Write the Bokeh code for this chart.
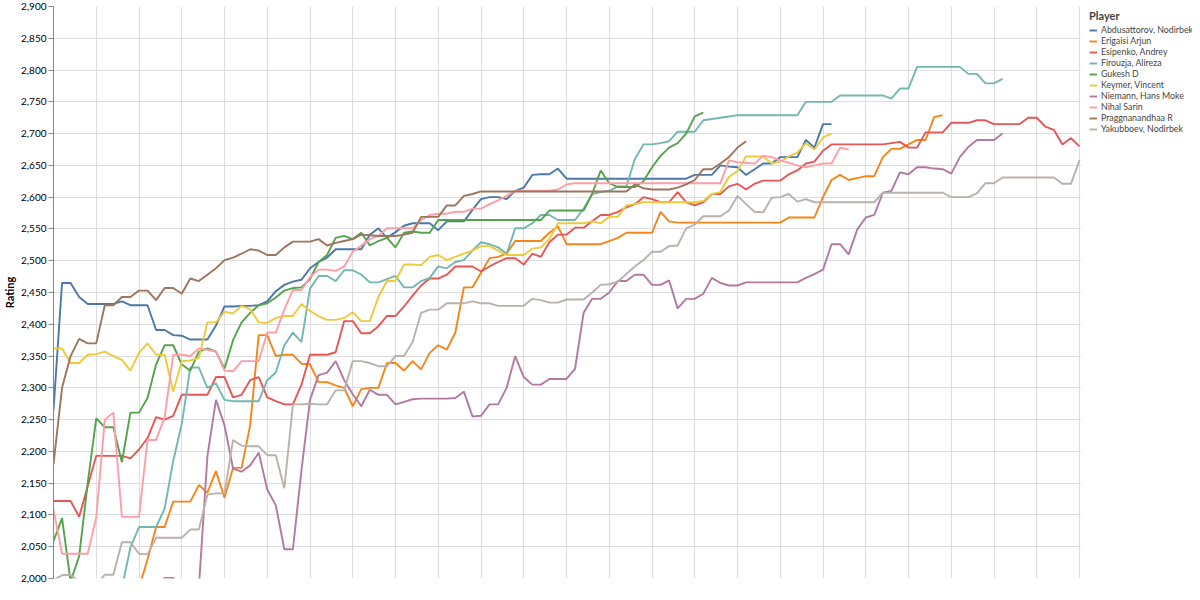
from bokeh.plotting import figure
from bokeh.models import (Legend, LegendItem, NumeralTickFormatter,
                          SingleIntervalTicker, Range1d, BoxAnnotation)
from bokeh.embed import file_html
from bokeh.resources import INLINE

players = ["Abdusattorov, Nodirbek", "Erigaisi Arjun", "Esipenko, Andrey",
           "Firouzja, Alireza", "Gukesh D", "Keymer, Vincent",
           "Niemann, Hans Moke", "Nihal Sarin", "Praggnanandhaa R",
           "Yakubboev, Nodirbek"]
colors = ["#4c78a8", "#f58518", "#e45756", "#72b7b2", "#54a24b",
          "#eeca3b", "#b279a2", "#ff9da6", "#9d755d", "#bab0ac"]

# rating list index of the first value of each series
first_list = [0, 10, 0, 8, 0, 0, 11, 0, 0, 0]

abdusattorov = [2265, 2465, 2465, 2443, 2432, 2432, 2432, 2432, 2436, 2430,
                2430, 2430, 2391, 2391, 2383, 2382, 2376, 2376, 2376, 2398,
                2428, 2428, 2429, 2429, 2430, 2436, 2452, 2462, 2467, 2470,
                2488, 2498, 2505, 2518, 2518, 2518, 2518, 2541, 2551, 2536,
                2545, 2555, 2559, 2559, 2559, 2548, 2562, 2562, 2562, 2580,
                2597, 2600, 2600, 2597, 2610, 2615, 2635, 2636, 2636, 2645,
                2629, 2629, 2629, 2629, 2629, 2629, 2629, 2629, 2629, 2629,
                2629, 2629, 2629, 2629, 2629,
                2635, 2635, 2635, 2650, 2648, 2647, 2635, 2644, 2653, 2653,
                2663, 2663, 2663, 2690, 2678, 2715, 2715]
erigaisi = [1985, 2030, 2081, 2081, 2121, 2121, 2121, 2147, 2135, 2169,
            2127, 2174, 2174, 2241, 2383, 2383, 2350, 2352, 2352, 2338,
            2337, 2309, 2309, 2304, 2300, 2271, 2298, 2300, 2300, 2339,
            2339, 2327, 2342, 2329, 2355, 2367, 2360, 2387, 2458, 2458,
            2481, 2504, 2506, 2511, 2531, 2531, 2531, 2531, 2544, 2554,
            2526, 2526, 2526, 2526, 2526, 2531, 2536, 2544, 2544, 2544,
            2544, 2577, 2562, 2560, 2560, 2560, 2560, 2560, 2560, 2560,
            2560, 2560, 2560, 2560, 2560, 2560, 2568, 2568, 2568, 2568,
            2600, 2627, 2635, 2627, 2630, 2633, 2633, 2663, 2676, 2676,
            2683, 2690, 2690, 2726, 2729]
esipenko = [2122, 2122, 2122, 2097, 2145, 2193, 2193, 2193, 2193, 2189,
            2203, 2221, 2254, 2250, 2256, 2289, 2289, 2289, 2289, 2317,
            2317, 2285, 2289, 2312, 2317, 2285, 2279, 2274, 2274, 2305,
            2352, 2352, 2352, 2356, 2405, 2405, 2386, 2386, 2397, 2413,
            2413, 2428, 2445, 2461, 2472, 2472, 2478, 2491, 2491, 2491,
            2483, 2491, 2498, 2504, 2504, 2494, 2511, 2506, 2529, 2541,
            2541, 2552, 2552, 2562, 2572, 2572, 2577, 2584, 2589, 2600,
            2597, 2592, 2592, 2608, 2592, 2587, 2592, 2605, 2605, 2617,
            2621, 2612, 2621, 2626, 2626, 2626, 2636, 2642, 2653, 2656,
            2673, 2683, 2683, 2683, 2683, 2683, 2683, 2683, 2685, 2687,
            2678, 2678, 2702, 2702, 2702, 2717, 2717, 2717, 2721, 2721,
            2715, 2715, 2715, 2715, 2725, 2725, 2711, 2706, 2683, 2693,
            2680]
firouzja = [1985, 2049,
            2081, 2081, 2081, 2110, 2185, 2243, 2332, 2332, 2300, 2307,
            2281, 2279, 2279, 2279, 2279, 2312, 2324, 2367, 2387, 2372,
            2456, 2476, 2476, 2468, 2485, 2485, 2478, 2466, 2466, 2471,
            2476, 2458, 2458, 2468, 2473, 2491, 2488, 2498, 2501, 2516,
            2529, 2526, 2521, 2511, 2551, 2551, 2559, 2572, 2572, 2564,
            2564, 2564, 2582, 2605, 2608, 2610, 2617, 2617, 2660, 2683,
            2683, 2685, 2688, 2703, 2703, 2703, 2721, 2723, 2725, 2727,
            2729, 2729, 2729, 2729, 2729, 2729, 2729, 2729, 2750, 2750,
            2750, 2750, 2760, 2760, 2760, 2760, 2760, 2760, 2755, 2771,
            2771, 2805, 2805, 2805, 2805, 2805, 2805, 2794, 2794, 2779,
            2779, 2786]
gukesh = [2059, 2095, 1995, 2035, 2150, 2252, 2238, 2238, 2183, 2261,
          2261, 2284, 2337, 2367, 2367, 2337, 2327, 2357, 2362, 2357,
          2330, 2375, 2403, 2418, 2430, 2433, 2442, 2453, 2457, 2458,
          2471, 2498, 2509, 2536, 2539, 2534, 2544, 2524, 2531, 2536,
          2521, 2544, 2546, 2544, 2544, 2564, 2564, 2564, 2564, 2564,
          2564, 2564, 2564, 2564, 2564, 2564, 2564, 2564, 2579, 2579,
          2579, 2579, 2579, 2605, 2642, 2622, 2616, 2616, 2616, 2625,
          2647, 2665, 2678, 2685, 2700, 2727, 2733]
keymer = [2362, 2362, 2339, 2339, 2352, 2353, 2357, 2350, 2344, 2327,
          2355, 2370, 2352, 2352, 2294, 2342, 2343, 2347, 2403, 2403,
          2420, 2417, 2429, 2424, 2403, 2402, 2410, 2413, 2413, 2432,
          2421, 2413, 2407, 2407, 2410, 2419, 2405, 2405, 2443, 2468,
          2468, 2494, 2494, 2493, 2506, 2509, 2501, 2506, 2511, 2516,
          2523, 2523, 2516, 2509, 2509, 2509, 2519, 2521, 2534, 2559,
          2559, 2559, 2559, 2562, 2559, 2569, 2569, 2587, 2589, 2592,
          2592, 2592, 2592, 2592, 2592, 2592, 2594, 2605, 2608, 2632,
          2641, 2664, 2664, 2664, 2653, 2656, 2664, 2670, 2685, 2675,
          2694, 2700]
niemann = [1960, 1985, 2001, 2001, 1985, 1970, 1985, 2192, 2281,
           2241, 2173, 2168, 2178, 2198, 2140, 2115, 2046, 2046, 2170,
           2281, 2320, 2324, 2342, 2312, 2290, 2271, 2297, 2289, 2289,
           2274, 2278, 2282, 2283, 2283, 2283, 2283, 2284, 2294, 2255,
           2256, 2274, 2274, 2300, 2350, 2317, 2305, 2305, 2314, 2314,
           2314, 2330, 2418, 2440, 2440, 2450, 2468, 2468, 2478, 2478,
           2462, 2462, 2469, 2425, 2440, 2440, 2448, 2473, 2465, 2461,
           2461, 2466, 2466, 2466, 2466, 2466, 2466, 2466, 2473, 2479,
           2486, 2526, 2526, 2510, 2549, 2568, 2572, 2607, 2610, 2639,
           2636, 2647, 2647, 2645, 2644, 2637, 2663, 2679, 2690, 2690,
           2690, 2700]
nihal = [2108, 2039, 2039, 2039, 2039, 2096, 2250, 2261, 2097, 2097,
         2097, 2218, 2218, 2254, 2352, 2352, 2350, 2362, 2360, 2357,
         2327, 2326, 2342, 2342, 2342, 2387, 2387, 2423, 2454, 2454,
         2474, 2486, 2486, 2484, 2491, 2514, 2524, 2534, 2539, 2551,
         2551, 2551, 2551, 2564, 2572, 2574, 2574, 2577, 2577, 2582,
         2582, 2589, 2595, 2602, 2610, 2610, 2610, 2610, 2610, 2612,
         2620, 2622, 2622, 2622, 2622, 2622, 2622, 2622, 2622, 2622,
         2622, 2622, 2622, 2622, 2622, 2622, 2622, 2622, 2622, 2658,
         2655, 2654, 2653, 2665, 2663, 2658, 2654, 2650, 2647, 2650,
         2653, 2653, 2678, 2675]
praggnanandhaa = [2180, 2300, 2350, 2377, 2370, 2370, 2430, 2430, 2443, 2443,
                  2453, 2453, 2438, 2457, 2457, 2448, 2472, 2468, 2478, 2488,
                  2501, 2505, 2511, 2518, 2516, 2509, 2509, 2521, 2530, 2530,
                  2530, 2534, 2524, 2528, 2531, 2534, 2541, 2540, 2539, 2539,
                  2539, 2541, 2544, 2569, 2569, 2569, 2587, 2587, 2602, 2605,
                  2609, 2609, 2609, 2609, 2609, 2609, 2609, 2609, 2609, 2609,
                  2609, 2609, 2609, 2609, 2609, 2609, 2609, 2609, 2620, 2614,
                  2612, 2612, 2612, 2615, 2620, 2627, 2644, 2644, 2653, 2663,
                  2678, 2688]
yakubboev = [1998, 2005, 2006, 1995, 1985, 1990, 2006, 2006, 2057, 2057,
             2039, 2038, 2064, 2064, 2064, 2064, 2077, 2077, 2132, 2134,
             2134, 2218, 2209, 2208, 2208, 2194, 2194, 2142, 2274, 2274,
             2275, 2274, 2274, 2296, 2296, 2342, 2342, 2339, 2334, 2334,
             2350, 2350, 2372, 2418, 2423, 2423, 2433, 2433, 2433, 2436,
             2433, 2433, 2429, 2429, 2429, 2429, 2440, 2438, 2434, 2434,
             2439, 2439, 2439, 2450, 2462, 2463, 2467, 2479, 2491, 2501,
             2514, 2514, 2523, 2524, 2551, 2557, 2570, 2570, 2570, 2579,
             2602, 2589, 2577, 2576, 2599, 2600, 2605, 2593, 2597, 2592,
             2592, 2592, 2592, 2592, 2592, 2592, 2592, 2607, 2607, 2607,
             2607, 2607, 2607, 2607, 2607, 2600, 2600, 2600, 2606, 2622,
             2622, 2631, 2631, 2631, 2631, 2631, 2631, 2631, 2621, 2621,
             2658]

series = [abdusattorov, erigaisi, esipenko, firouzja, gukesh, keymer,
          niemann, nihal, praggnanandhaa, yakubboev]

X_MAX = 120          # last rating list shown on the x axis
FONT = "Lato"
PLOT_W = 1026        # pixel width of the data area (0..X_MAX)
FRAME_W = 1139       # data area + legend strip
FRAME_H = 572
x_end = X_MAX * FRAME_W / PLOT_W

p = figure(frame_width=FRAME_W, frame_height=FRAME_H,
           output_backend="svg", toolbar_location=None,
           x_range=Range1d(0, x_end), y_range=Range1d(2000, 2900),
           min_border_top=6, min_border_bottom=6, min_border_left=2,
           min_border_right=0)
p.outline_line_color = None
p.background_fill_color = "white"

items = []
for name, col, start, vals in zip(players, colors, first_list, series):
    xs = [start + i for i in range(len(vals))]
    r = p.line(xs, vals, line_color=col, line_width=1.9)
    items.append(LegendItem(label=name, renderers=[r]))

p.xaxis.visible = False
p.xaxis.ticker = SingleIntervalTicker(interval=5)
p.xgrid.ticker = SingleIntervalTicker(interval=5)
p.xgrid.grid_line_color = "#dddddd"
p.ygrid.grid_line_color = "#dddddd"

ya = p.yaxis[0]
ya.ticker = SingleIntervalTicker(interval=50)
ya.formatter = NumeralTickFormatter(format="0,0")
ya.axis_label = "Rating"
ya.axis_label_text_font = FONT
ya.axis_label_text_font_style = "bold"
ya.axis_label_text_font_size = "11px"
ya.axis_label_text_color = "#000000"
ya.axis_label_standoff = 2
ya.major_label_text_font = FONT
ya.major_label_text_font_size = "10px"
ya.major_label_text_color = "#000000"
ya.major_label_standoff = 2
ya.axis_line_color = "#888888"
ya.major_tick_line_color = "#888888"
ya.major_tick_out = 5
ya.major_tick_in = 0
ya.minor_tick_out = 0
ya.minor_tick_in = 0

# blank strip right of the data area that hosts the legend
strip = BoxAnnotation(left=X_MAX + 0.15, right=x_end + 5, bottom=1900, top=3000,
                      fill_color="white", fill_alpha=1.0, line_color=None)
p.add_layout(strip)

legend = Legend(items=items, location=(PLOT_W + 10, FRAME_H - 128),
                title="Player",
                title_text_font=FONT, title_text_font_style="bold",
                title_text_font_size="11px", title_standoff=2,
                label_text_font=FONT, label_text_font_size="8.8px",
                label_height=10, glyph_height=10, glyph_width=8,
                label_standoff=4, spacing=0, padding=0, margin=0,
                border_line_color=None, background_fill_alpha=0)
p.add_layout(legend, "center")

open("out.html", "w").write(file_html(p, INLINE))
